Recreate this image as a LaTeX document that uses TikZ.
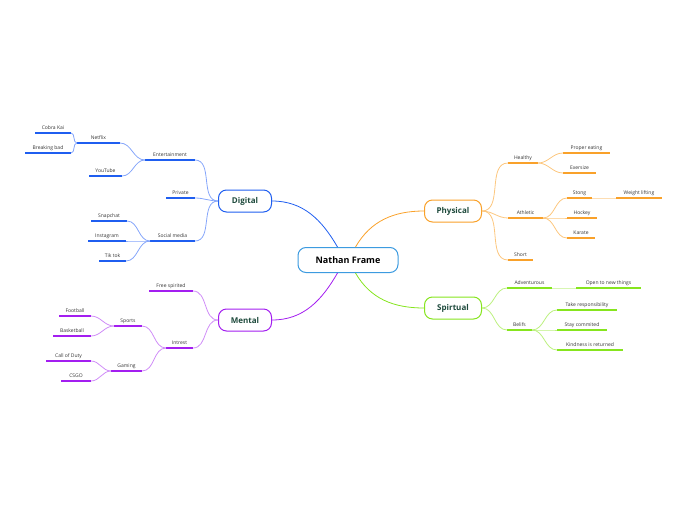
\documentclass[tikz,border=0pt]{standalone}
\usepackage{fontspec}
\setmainfont{Open Sans}
\definecolor{cb}{HTML}{1F5EF0}\definecolor{cbl}{HTML}{86A6FA}
\definecolor{cp}{HTML}{A31EF0}\definecolor{cpl}{HTML}{D08DF7}
\definecolor{co}{HTML}{F9A12A}\definecolor{col}{HTML}{FCC77F}
\definecolor{cg}{HTML}{86E51E}\definecolor{cgl}{HTML}{BCF07F}
\definecolor{croot}{HTML}{3C9BE0}\definecolor{tx}{HTML}{1E4A3C}
\tikzset{
 main/.style={draw=#1,line width=1pt,rounded corners=8pt,fill=white,minimum height=22pt,font=\fontsize{8}{9}\selectfont\bfseries,text=tx},
 lbl/.style={font=\fontsize{5}{6}\selectfont,text=black!80,inner sep=0pt,anchor=base},
 conn/.style={line width=0.8pt}
}
\newcommand{\leaf}[6]{%
 \coordinate (#1-l) at (#2,#4); \coordinate (#1-r) at (#3,#4);
 \draw[#6,line width=1.4pt] (#1-l) -- (#1-r);
 \node[lbl] (#1) at ({(#2+#3)/2},#4-3.5) {#5};}
\begin{document}
\begin{tikzpicture}[x=1pt,y=-1pt]
\useasboundingbox (0,0) rectangle (697,520);
% main nodes
\node[main=croot,minimum width=100pt,minimum height=25pt,font=\fontsize{9}{10}\selectfont\bfseries,text=black] (root) at (348,260) {Nathan Frame};
\node[main=cb,minimum width=53pt] (dig) at (245,201) {Digital};
\node[main=cp,minimum width=53pt] (men) at (245,320) {Mental};
\node[main=co,minimum width=57pt] (phy) at (453,211) {Physical};
\node[main=cg,minimum width=57pt] (spi) at (453,308) {Spirtual};
\draw[cb,conn] (root.north west)++(40,0) to[out=120,in=0] (dig.east);
\draw[cp,conn] (root.south west)++(40,0) to[out=-120,in=0] (men.east);
\draw[co,conn] (root.north east)++(-43,0) to[out=60,in=180] (phy.west);
\draw[cg,conn] (root.south east)++(-43,0) to[out=-60,in=180] (spi.west);
% Digital
\leaf{ent}{145}{195}{160}{Entertainment}{cb}
\leaf{pri}{166}{195}{198}{Private}{cb}
\leaf{soc}{150}{195}{241}{Social media}{cb}
\leaf{net}{77}{120}{143}{Netflix}{cb}
\leaf{you}{89}{122}{176}{YouTube}{cb}
\leaf{cob}{35}{71}{133}{Cobra Kai}{cb}
\leaf{bre}{25}{71}{153}{Breaking bad}{cb}
\leaf{sna}{91}{127}{221}{Snapchat}{cb}
\leaf{ins}{88}{126}{241}{Instagram}{cb}
\leaf{tik}{99}{126}{261}{Tik tok}{cb}
\foreach \c in {ent,pri,soc} \draw[cbl,conn] (dig.west) to[out=180,in=0] (\c-r);
\foreach \c in {net,you} \draw[cbl,conn] (ent-l) to[out=180,in=0] (\c-r);
\foreach \c in {cob,bre} \draw[cbl,conn] (net-l) to[out=180,in=0] (\c-r);
\foreach \c in {sna,ins,tik} \draw[cbl,conn] (soc-l) to[out=180,in=0] (\c-r);
% Mental
\leaf{fre}{149}{193}{291}{Free spirited}{cp}
\leaf{int}{166}{193}{348}{Intrest}{cp}
\leaf{spo}{114}{142}{326}{Sports}{cp}
\leaf{gam}{111}{142}{371}{Gaming}{cp}
\leaf{foo}{59}{91}{316}{Football}{cp}
\leaf{bas}{53}{91}{336}{Basketball}{cp}
\leaf{cal}{46}{91}{361}{Call of Duty}{cp}
\leaf{csg}{61}{91}{381}{CSGO}{cp}
\foreach \c in {fre,int} \draw[cpl,conn] (men.west) to[out=180,in=0] (\c-r);
\foreach \c in {spo,gam} \draw[cpl,conn] (int-l) to[out=180,in=0] (\c-r);
\foreach \c in {foo,bas} \draw[cpl,conn] (spo-l) to[out=180,in=0] (\c-r);
\foreach \c in {cal,csg} \draw[cpl,conn] (gam-l) to[out=180,in=0] (\c-r);
% Physical
\leaf{hea}{508}{538}{163}{Healthy}{co}
\leaf{ath}{508}{543}{218}{Athletic}{co}
\leaf{sho}{508}{533}{260}{Short}{co}
\leaf{pro}{563}{610}{153}{Proper eating}{co}
\leaf{exe}{563}{596}{173}{Exersize}{co}
\leaf{sto}{567}{592}{198}{Stong}{co}
\leaf{wei}{616}{662}{198}{Weight lifting}{co}
\leaf{hoc}{567}{597}{218}{Hockey}{co}
\leaf{kar}{567}{595}{238}{Karate}{co}
\foreach \c in {hea,ath,sho} \draw[col,conn] (phy.east) to[out=0,in=180] (\c-l);
\foreach \c in {pro,exe} \draw[col,conn] (hea-r) to[out=0,in=180] (\c-l);
\foreach \c in {sto,hoc,kar} \draw[col,conn] (ath-r) to[out=0,in=180] (\c-l);
\draw[col!60,conn] (sto-r) -- (wei-l);
% Spirtual
\leaf{adv}{507}{552}{288}{Adventurous}{cg}
\leaf{ope}{576}{641}{288}{Open to new things}{cg}
\leaf{bel}{507}{532}{330}{Belifs}{cg}
\leaf{tak}{557}{617}{310}{Take responsibility}{cg}
\leaf{sta}{557}{607}{330}{Stay commited}{cg}
\leaf{kin}{557}{623}{350}{Kindness is returned}{cg}
\foreach \c in {adv,bel} \draw[cgl,conn] (spi.east) to[out=0,in=180] (\c-l);
\draw[cgl!60,conn] (adv-r) -- (ope-l);
\foreach \c in {tak,sta,kin} \draw[cgl,conn] (bel-r) to[out=0,in=180] (\c-l);
\end{tikzpicture}
\end{document}
